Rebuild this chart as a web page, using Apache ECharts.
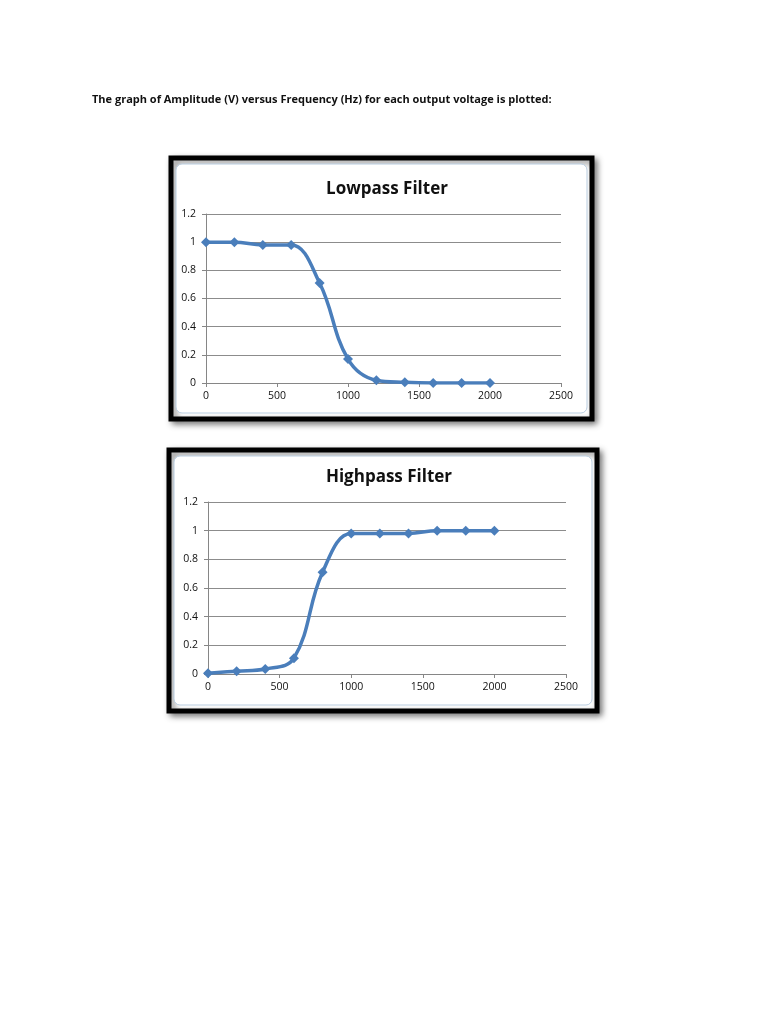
<!DOCTYPE html>
<html>
<head>
<meta charset="utf-8">
<script src="https://cdn.jsdelivr.net/npm/echarts@6/dist/echarts.min.js"></script>
<style>
  html, body { margin: 0; padding: 0; background: #fff; }
  #page { width: 768px; height: 1024px; }
</style>
</head>
<body>
<div id="page"></div>
<script>
// 频率 (Hz)
const freq = [0, 200, 400, 600, 800, 1000, 1200, 1400, 1600, 1800, 2000];
// 低通滤波器输出幅值 (V)
const lowpass = [1, 1, 0.98, 0.98, 0.71, 0.17, 0.02, 0.005, 0, 0, 0];
// 高通滤波器输出幅值 (V)
const highpass = [0.005, 0.02, 0.035, 0.11, 0.71, 0.98, 0.98, 0.98, 1, 1, 1];

const heading = 'The graph of Amplitude (V) versus Frequency (Hz) for each output voltage is plotted:';
const titles = ['Lowpass Filter', 'Highpass Filter'];

const blue = '#4A7EBB';
const font = 'Open Sans, Liberation Sans, sans-serif';

function pairs(ys) {
    return freq.map((f, i) => [f, ys[i]]);
}

function axisX(idx) {
    return {
        type: 'value', gridIndex: idx, min: 0, max: 2500, interval: 500,
        axisLine: { show: true, lineStyle: { color: '#868686' } },
        axisTick: { show: true, length: 4, lineStyle: { color: '#868686' } },
        axisLabel: { color: '#111', fontSize: 10.5, fontFamily: font, margin: 8,
                     formatter: v => String(v) },
        splitLine: { show: false }
    };
}

function axisY(idx) {
    return {
        type: 'value', gridIndex: idx, min: 0, max: 1.2, interval: 0.2,
        axisLine: { show: true, lineStyle: { color: '#868686' } },
        axisTick: { show: true, length: 4, lineStyle: { color: '#868686' } },
        axisLabel: { color: '#111', fontSize: 10.5, fontFamily: font, margin: 10 },
        splitLine: { show: true, lineStyle: { color: '#8c8c8c', width: 1 } }
    };
}

function serie(idx, ys) {
    return {
        type: 'line', xAxisIndex: idx, yAxisIndex: idx,
        data: pairs(ys), smooth: 0.4,
        symbol: 'diamond', symbolSize: 10,
        lineStyle: { color: blue, width: 3.5 },
        itemStyle: { color: blue }
    };
}

function frame(x, y, w, h) {
    return [
        {
            type: 'rect', shape: { x: x, y: y, width: w, height: h },
            style: { fill: '#fff', stroke: '#000', lineWidth: 5,
                     shadowBlur: 6, shadowOffsetX: 3, shadowOffsetY: 3, shadowColor: 'rgba(0,0,0,0.45)' },
            z: -10
        },
        {
            type: 'rect', shape: { x: x + 5, y: y + 6, width: w - 10, height: h - 12, r: 6 },
            style: { fill: '#fff', stroke: '#b9cde0', lineWidth: 1 },
            z: -9
        }
    ];
}

const chart = echarts.init(document.getElementById('page'));
chart.setOption({
    animation: false,
    title: [
        { text: heading, left: 92, top: 94, padding: 0,
          textStyle: { fontSize: 11, fontWeight: 'bold', color: '#111', fontFamily: font } },
        { text: titles[0], left: 382, top: 176, textAlign: 'center',
          textStyle: { fontSize: 17, fontWeight: 'bold', color: '#111', fontFamily: font } },
        { text: titles[1], left: 384, top: 464, textAlign: 'center',
          textStyle: { fontSize: 17, fontWeight: 'bold', color: '#111', fontFamily: font } }
    ],
    graphic: frame(171, 158, 421, 261).concat(frame(169, 450, 428, 261)),
    grid: [
        { left: 206, top: 214, width: 355, height: 169 },
        { left: 208, top: 502, width: 358, height: 172 }
    ],
    xAxis: [axisX(0), axisX(1)],
    yAxis: [axisY(0), axisY(1)],
    series: [serie(0, lowpass), serie(1, highpass)]
});
</script>
</body>
</html>
